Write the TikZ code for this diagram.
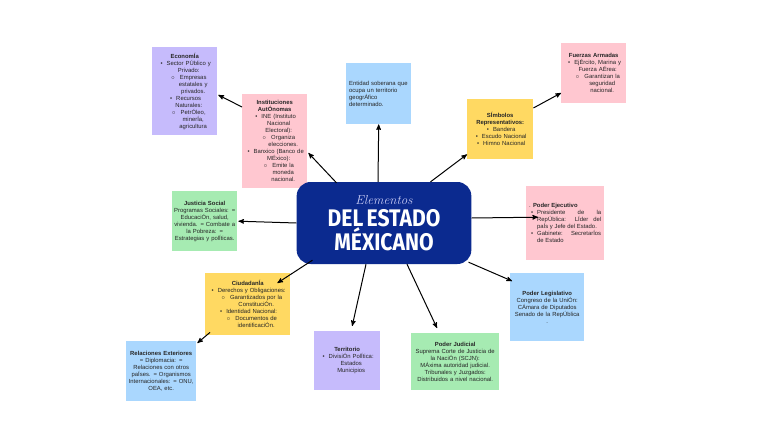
\documentclass[tikz,border=0pt]{standalone}
\usepackage{fontspec}
\usepackage{xcolor}
\usepackage{tikz}
\usetikzlibrary{positioning,calc,arrows,shapes}
\newfontfamily\bodyfont{Liberation Sans}
\newfontfamily\titlefont[FakeStretch=0.88]{Fira Sans}
\definecolor{lila}{HTML}{C6BBFC}
\definecolor{rosa}{HTML}{FFC7D0}
\definecolor{celeste}{HTML}{AAD7FE}
\definecolor{amarillo}{HTML}{FFD962}
\definecolor{verde}{HTML}{A6EBB2}
\definecolor{marino}{HTML}{0B2A8F}
\definecolor{letra}{HTML}{C9CCF5}
\hyphenpenalty=10000
\newenvironment{puntos}{\list{\textbullet}{\leftmargin=8pt\labelwidth=4pt\labelsep=4pt
  \itemsep=0pt\parsep=0pt\topsep=0pt\partopsep=0pt}\centering}{\endlist}
\newenvironment{circulos}{\list{$\circ$}{\leftmargin=9pt\labelwidth=4pt\labelsep=5pt
  \itemsep=0pt\parsep=0pt\topsep=0pt\partopsep=0pt}\centering}{\endlist}
\newcommand{\parejo}{\leftskip=0pt\rightskip=0pt\parfillskip=0pt plus 1fil}
\tikzset{
  nota/.style   = {rectangle, anchor=north west, inner sep=3pt, align=center,
                   text=black!85, font=\bodyfont\fontsize{5.9}{7}\selectfont},
  caja lila/.style     = {nota, fill=lila},
  caja rosa/.style     = {nota, fill=rosa},
  caja celeste/.style  = {nota, fill=celeste},
  caja amarillo/.style = {nota, fill=amarillo},
  caja verde/.style    = {nota, fill=verde},
  central/.style = {rectangle, rounded corners=14pt, fill=marino, text=white,
                    minimum width=174pt, minimum height=82pt, text width=168pt, align=center},
  flecha/.style = {->, >=stealth', line width=1pt}
}
\begin{document}
\begin{tikzpicture}[x=1pt,y=-1pt]
\useasboundingbox (0,0) rectangle (768,431);
\fill[white] (0,0) rectangle (768,431);
% notas de arriba
\node[caja lila, minimum width=65pt, minimum height=88pt, text width=59pt] (econ) at (152,47)
  {\textbf{EconomÍa}\par
   \begin{puntos}
   \item Sector PÚblico y Privado:
     \begin{circulos}\item Empresas estatales y privados.\end{circulos}
   \item Recursos Naturales:
     \begin{circulos}\item PetrÓleo, minerÍa, agricultura\end{circulos}
   \end{puntos}};
\node[caja rosa, minimum width=65pt, minimum height=94pt, text width=59pt] (inst) at (242,94)
  {\textbf{Instituciones AutÓnomas}\par
   \begin{puntos}
   \item INE (Instituto Nacional Electoral):
     \begin{circulos}\item Organiza elecciones.\end{circulos}
   \item Banxico (Banco de MÉxico):
     \begin{circulos}\item Emite la moneda nacional.\end{circulos}
   \end{puntos}};
\node[caja celeste, minimum width=65pt, minimum height=61pt, text width=59pt, align=left] (ent) at (346,63)
  {Entidad soberana que\\ ocupa un territorio\\ geogrÁfico\\ determinado.};
\node[caja amarillo, minimum width=66pt, minimum height=60pt, text width=60pt] (simb) at (467,99)
  {\textbf{SÍmbolos}\\ \textbf{Representativos:}\par
   \begin{puntos}
   \item Bandera
   \item Escudo Nacional
   \item Himno Nacional
   \end{puntos}};
\node[caja rosa, minimum width=65pt, minimum height=60pt, text width=59pt] (fuer) at (561,43)
  {\textbf{Fuerzas Armadas}\par
   \begin{puntos}
   \item EjÉrcito, Marina y Fuerza AÉrea:
     \begin{circulos}\item Garantizan la seguridad nacional.\end{circulos}
   \end{puntos}};
% centro
\node[central] (cen) at (384,223)
  {\fontsize{13}{13}\selectfont\itshape\color{letra}Elementos\\[-1pt]
   \color{white}\upshape\titlefont\bfseries\fontsize{24}{23}\selectfont DEL ESTADO\\ MÉXICANO};
% notas de en medio y abajo
\node[caja verde, minimum width=65pt, minimum height=60pt, inner xsep=1.5pt, text width=62pt] (just) at (172,191)
  {\textbf{Justicia Social}\\ Programas Sociales: =\\ EducaciÓn, salud,\\ vivienda. = Combate a\\
   la Pobreza: =\\ Estrategias y polÍticas.};
\node[caja rosa, minimum width=78pt, minimum height=74pt, text width=72pt, align=justify] (ejec) at (526,186)
  {. \textbf{Poder Ejecutivo}\par
   \begin{puntos}\parejo
   \item Presidente de la RepÚblica: LÍder del paÍs y Jefe del Estado.
   \item Gabinete: SecretarÍos de Estado
   \end{puntos}};
\node[caja amarillo, minimum width=85pt, minimum height=62pt, text width=79pt] (ciud) at (205,273)
  {\textbf{CiudadanÍa}\par
   \begin{puntos}
   \item Derechos y Obligaciones:
     \begin{circulos}\item Garantizados por la ConstituciÓn.\end{circulos}
   \item Identidad Nacional:
     \begin{circulos}\item Documentos de identificaciÓn.\end{circulos}
   \end{puntos}};
\node[caja celeste, minimum width=70pt, minimum height=60pt, inner xsep=2pt, text width=66pt] (rel) at (126,341)
  {\textbf{Relaciones Exteriores}\\ = Diplomacia: =\\ Relaciones con otros\\ paÍses. = Organismos\\
   Internacionales: = ONU,\\ OEA, etc.};
\node[caja lila, minimum width=66pt, minimum height=59pt, text width=60pt] (terr) at (314,331)
  {\textbf{Territorio}\par
   \begin{puntos}
   \item DivisiÓn PolÍtica:\\ Estados\\ Municipios
   \end{puntos}};
\node[caja verde, minimum width=88pt, minimum height=57pt, text width=82pt] (jud) at (411,333)
  {\textbf{Poder Judicial}\\ Suprema Corte de Justicia de\\ la NaciÓn (SCJN):\\
   MÁxima autoridad judicial.\\ Tribunales y Juzgados:\\ Distribuidos a nivel nacional.};
\node[caja celeste, minimum width=74pt, minimum height=68pt, text width=68pt] (leg) at (510,273)
  {\textbf{Poder Legislativo}\\ Congreso de la UniÓn:\\ CÁmara de Diputados\\ Senado de la RepÚblica\\ .};
% flechas
\draw[flecha] ($(cen.north west)+(40,1)$) -- ($(inst.north east)+(1,59)$);
\draw[flecha] ($(inst.north west)+(0,13)$) -- ($(econ.north east)+(1,48)$);
\draw[flecha] ($(cen.north)+(-6,0)$) -- ($(ent.south)+(0,0)$);
\draw[flecha] ($(cen.north east)+(-41,0)$) -- ($(simb.south west)+(0,-5)$);
\draw[flecha] ($(simb.north east)+(0,9)$) -- ($(fuer.north west)+(0,50)$);
\draw[flecha] ($(cen.east)+(0,-5)$) -- ($(ejec.west)+(12,-6)$);
\draw[flecha] ($(cen.south east)+(-3,-2)$) -- ($(leg.north west)+(2,8)$);
\draw[flecha] ($(cen.south)+(23,0)$) -- ($(jud.north west)+(26,-5)$);
\draw[flecha] ($(cen.south)+(-18,0)$) -- ($(terr.north)+(5,-5)$);
\draw[flecha] (cen.west) -- ($(just.east)+(1,0)$);
\draw[flecha] ($(cen.south west)+(16,-4)$) -- ($(ciud.north east)+(-13,10)$);
\draw[flecha] ($(ciud.south west)+(5,-3)$) -- ($(rel.north east)+(1,2)$);
\end{tikzpicture}
\end{document}
